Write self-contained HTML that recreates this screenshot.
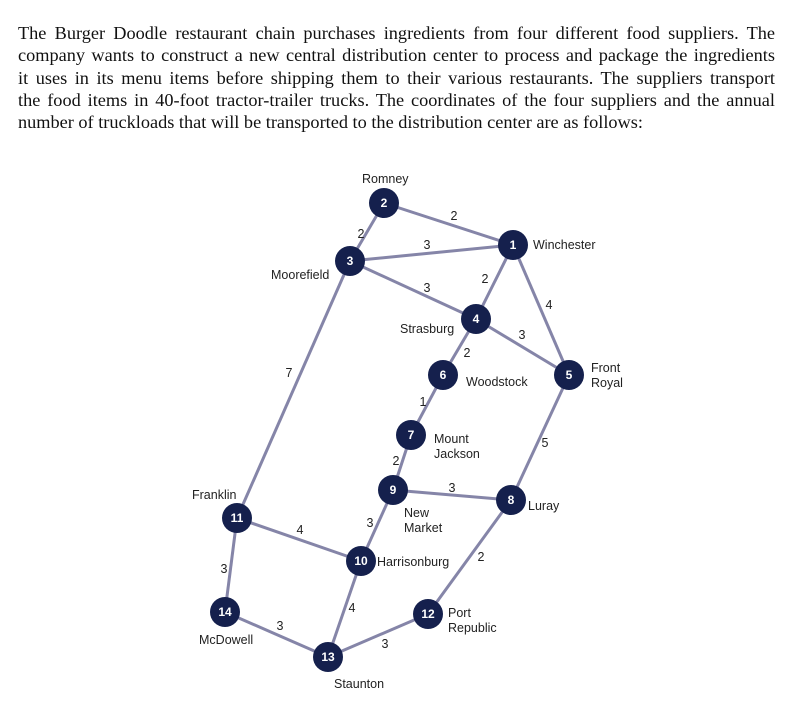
<!DOCTYPE html>
<html><head><meta charset="utf-8"><style>
body{margin:0;background:#fff;width:807px;height:714px;overflow:hidden;position:relative}
.p{position:absolute;left:18px;top:22px;width:757px;font-family:"Liberation Serif",serif;font-size:18.3px;line-height:22.3px;color:#111}
.p div{text-align:justify;text-align-last:justify;white-space:nowrap;height:22.3px}
.p div.l{text-align-last:left}
svg{position:absolute;left:0;top:0}
</style></head><body>
<div class="p">
<div>The Burger Doodle restaurant chain purchases ingredients from four different food suppliers. The</div>
<div>company wants to construct a new central distribution center to process and package the ingredients</div>
<div>it uses in its menu items before shipping them to their various restaurants. The suppliers transport</div>
<div>the food items in 40-foot tractor-trailer trucks. The coordinates of the four suppliers and the annual</div>
<div class="l">number of truckloads that will be transported to the distribution center are as follows:</div>
</div>
<svg width="807" height="714" font-family="Liberation Sans, sans-serif">
<g stroke="#8585a8" stroke-width="3">
<line x1="384" y1="203" x2="513" y2="245"/>
<line x1="384" y1="203" x2="350" y2="261"/>
<line x1="350" y1="261" x2="513" y2="245"/>
<line x1="350" y1="261" x2="476" y2="319"/>
<line x1="513" y1="245" x2="476" y2="319"/>
<line x1="513" y1="245" x2="569" y2="375"/>
<line x1="476" y1="319" x2="569" y2="375"/>
<line x1="476" y1="319" x2="443" y2="375"/>
<line x1="443" y1="375" x2="411" y2="435"/>
<line x1="411" y1="435" x2="393" y2="490"/>
<line x1="393" y1="490" x2="511" y2="500"/>
<line x1="393" y1="490" x2="361" y2="561"/>
<line x1="569" y1="375" x2="511" y2="500"/>
<line x1="511" y1="500" x2="428" y2="614"/>
<line x1="350" y1="261" x2="237" y2="518"/>
<line x1="237" y1="518" x2="361" y2="561"/>
<line x1="237" y1="518" x2="225" y2="612"/>
<line x1="225" y1="612" x2="328" y2="657"/>
<line x1="361" y1="561" x2="328" y2="657"/>
<line x1="428" y1="614" x2="328" y2="657"/>
</g>
<g fill="#15204d">
<circle cx="384" cy="203" r="15"/><circle cx="513" cy="245" r="15"/><circle cx="350" cy="261" r="15"/>
<circle cx="476" cy="319" r="15"/><circle cx="569" cy="375" r="15"/><circle cx="443" cy="375" r="15"/>
<circle cx="411" cy="435" r="15"/><circle cx="393" cy="490" r="15"/><circle cx="511" cy="500" r="15"/>
<circle cx="237" cy="518" r="15"/><circle cx="361" cy="561" r="15"/><circle cx="225" cy="612" r="15"/>
<circle cx="428" cy="614" r="15"/><circle cx="328" cy="657" r="15"/>
</g>
<g fill="#fff" font-size="12" font-weight="bold" text-anchor="middle">
<text x="384" y="207">2</text><text x="513" y="249">1</text><text x="350" y="265">3</text>
<text x="476" y="323">4</text><text x="569" y="379">5</text><text x="443" y="379">6</text>
<text x="411" y="439">7</text><text x="393" y="494">9</text><text x="511" y="504">8</text>
<text x="237" y="522">11</text><text x="361" y="565">10</text><text x="225" y="616">14</text>
<text x="428" y="618">12</text><text x="328" y="661">13</text>
</g>
<g fill="#222" font-size="12.5">
<text x="362" y="183">Romney</text>
<text x="533" y="249">Winchester</text>
<text x="271" y="279">Moorefield</text>
<text x="400" y="333">Strasburg</text>
<text x="591" y="372">Front</text><text x="591" y="387">Royal</text>
<text x="466" y="386">Woodstock</text>
<text x="434" y="443">Mount</text><text x="434" y="458">Jackson</text>
<text x="404" y="517">New</text><text x="404" y="532">Market</text>
<text x="528" y="510">Luray</text>
<text x="192" y="499">Franklin</text>
<text x="377" y="566">Harrisonburg</text>
<text x="199" y="644">McDowell</text>
<text x="448" y="617">Port</text><text x="448" y="632">Republic</text>
<text x="334" y="688">Staunton</text>
</g>
<g fill="#222" font-size="12.5" text-anchor="middle">
<text x="454" y="220">2</text><text x="361" y="238">2</text><text x="427" y="249">3</text>
<text x="427" y="292">3</text><text x="485" y="283">2</text><text x="549" y="309">4</text>
<text x="522" y="339">3</text><text x="467" y="357">2</text><text x="289" y="377">7</text>
<text x="423" y="406">1</text><text x="545" y="447">5</text><text x="396" y="465">2</text>
<text x="452" y="492">3</text><text x="370" y="527">3</text><text x="300" y="534">4</text>
<text x="481" y="561">2</text><text x="224" y="573">3</text><text x="352" y="612">4</text>
<text x="280" y="630">3</text><text x="385" y="648">3</text>
</g>
</svg>
</body></html>
